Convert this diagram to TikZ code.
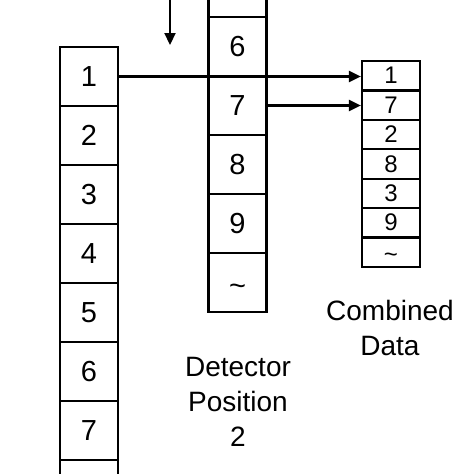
\documentclass[tikz,border=0pt]{standalone}
\usepackage{fontspec}
\setmainfont{Liberation Sans}
\usetikzlibrary{arrows.meta}
\newcommand{\gap}{\raisebox{-0.08em}[0.72em][0pt]{\textasciitilde}}
\tikzset{
  cell/.style={draw, line width=2.2pt, inner sep=0pt, minimum width=58pt, minimum height=59pt, font=\fontsize{29}{34}\selectfont},
  slot/.style={draw, line width=2.2pt, inner sep=0pt, minimum width=58pt, minimum height=29.4pt, font=\fontsize{24}{28}\selectfont},
  feed/.style={line width=2.2pt, -{Triangle[length=12pt,width=11pt]}},
  caption/.style={align=center, font=\fontsize{28}{35}\selectfont}
}
\begin{document}
\begin{tikzpicture}[x=1pt,y=-1pt]
\clip (0,0) rectangle (474,474);
% first detector position
\foreach \n/\t [count=\i] in {1/1,2/2,3/3,4/4,5/5,6/6,7/7,8/{}}
  \node[cell] (l\n) at (89,{76.5+59*(\i-1)}) {\t};
% second detector position
\foreach \n/\t [count=\i] in {5/{},6/6,7/7,8/8,9/9,10/\gap}
  \node[cell] (m\n) at (237.5,{-12.5+59*(\i-1)}) {\t};
% combined data
\foreach \t [count=\i] in {1,7,2,8,3,9,\gap}
  \node[slot] (r\i) at (391,{75.7+29.4*(\i-1)}) {\t};
\coordinate (top) at (170,0);
\coordinate (drop) at (170,45);
\draw[feed] (top) -- (drop);
\draw[feed] (l1.east) -- (l1.east -| r1.west);
\draw[feed] (m7.east) -- (m7.east -| r2.west);
\node[caption] (comb) at (390,328) {Combined\\Data};
\node[caption] (det) at (238,402) {Detector\\Position\\2};
\end{tikzpicture}
\end{document}
